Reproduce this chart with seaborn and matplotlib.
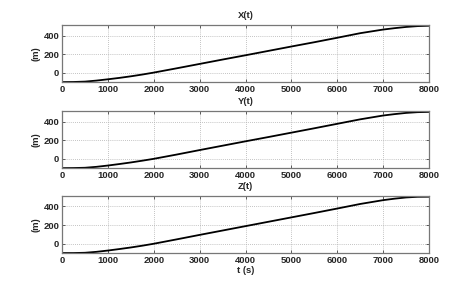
#!/usr/bin/env python3

# Position components over time, three stacked panels.

import matplotlib

matplotlib.use("Agg")
import matplotlib.pylab as plt
import pandas
import seaborn as sns

# values
t = [0, 250, 500, 750, 1000, 1250, 1500, 1750, 2000, 2500, 3000, 3500, 4000,
     4500, 5000, 5500, 6000, 6500, 7000, 7250, 7500, 7750, 8000]
x_pos = [-100, -99, -95, -84, -70, -55, -38, -19, 2, 48, 95, 142, 188,
         235, 282, 328, 376, 425, 464, 479, 492, 501, 505]
y_pos = [-100, -99, -96, -86, -72, -56, -39, -20, 0, 46, 94, 141, 188,
         234, 281, 328, 376, 424, 465, 480, 493, 501, 504]
z_pos = [-100, -100, -97, -87, -73, -57, -40, -21, 0, 47, 95, 142, 189,
         236, 283, 330, 378, 427, 468, 484, 497, 504, 505]
titles = ["X(t)", "Y(t)", "Z(t)"]
xticks = [0, 1000, 2000, 3000, 4000, 5000, 6000, 7000, 8000]
yticks = [0, 200, 400]

sns.set_theme(style="white")
plt.rcParams["font.family"] = ["Liberation Sans", "DejaVu Sans"]
plt.rcParams["font.weight"] = "bold"

df = pandas.DataFrame({"t": t, "X(t)": x_pos, "Y(t)": y_pos, "Z(t)": z_pos})

fig = plt.figure(figsize=(4.74, 2.84), dpi=100)
bottoms = [0.711, 0.408, 0.109]
for title, bottom in zip(titles, bottoms):
    ax = fig.add_axes([0.131, bottom, 0.774, 0.2])
    sns.lineplot(data=df, x="t", y=title, ax=ax, color="black", linewidth=1.3)
    ax.set_xlim(0, 8000)
    ax.set_ylim(-100, 510)
    ax.set_xticks(xticks)
    ax.set_yticks(yticks)
    ax.grid(True, linestyle=(0, (1, 1.5)), color="#b0b0b0", linewidth=0.6)
    ax.tick_params(direction="in", length=2.5, width=0.6, labelsize=6.8,
                   top=True, right=True, bottom=True, left=True, pad=2,
                   color="#444444")
    for spine in ax.spines.values():
        spine.set_color("#777777")
        spine.set_linewidth(0.9)
    ax.set_title(title, fontsize=6.8, fontweight="bold", pad=5)
    ax.set_ylabel("(m)", fontsize=6.8, fontweight="bold", labelpad=2)
    ax.set_xlabel("")
    if title == "Z(t)":
        ax.set_xlabel("t (s)", fontsize=6.8, fontweight="bold", labelpad=1)

plt.savefig("out.png", dpi=100)
